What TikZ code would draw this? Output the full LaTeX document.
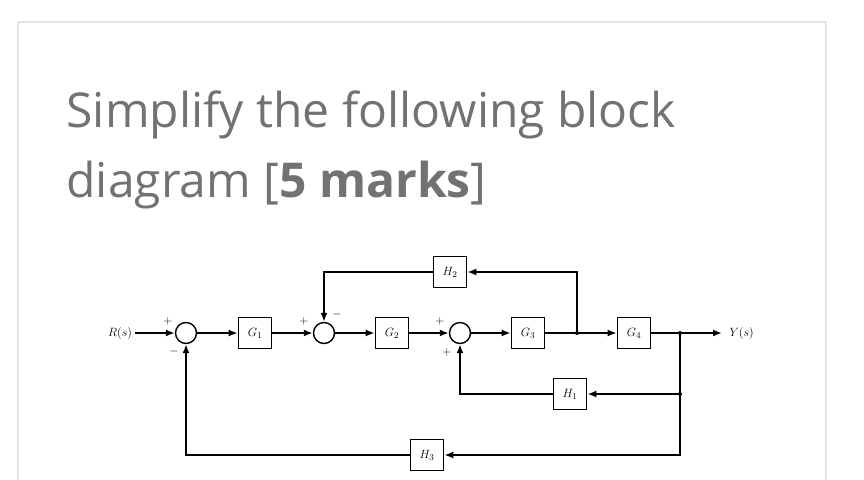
\documentclass[tikz,border=0pt]{standalone}
\usepackage{fontspec}
\setmainfont{Open Sans}
\usetikzlibrary{arrows.meta}
\definecolor{tgray}{HTML}{727272}
\begin{document}
\begin{tikzpicture}[x=1pt,y=-1pt,
  blk/.style={draw,line width=1.6pt,minimum width=33pt,minimum height=31pt,inner sep=0pt,font=\fontsize{13}{13}\selectfont},
  sm/.style={draw,circle,line width=1.4pt,minimum size=21pt,inner sep=0pt},
  sig/.style={-{Latex[length=9pt,width=7pt]},line width=1.8pt},
  lab/.style={font=\fontsize{12}{12}\selectfont}]
\useasboundingbox (0,0) rectangle (864,479);
\draw[gray!20,line width=1.5pt] (18,22) -- (18,490) (18,22) -- (826,22) -- (826,490);
\node[anchor=base west,text=tgray,font=\fontsize{48}{48}\selectfont] (t1) at (63,127) {Simplify the following block};
\node[anchor=base west,text=tgray,font=\fontsize{48}{48}\selectfont] (t2) at (63,197) {diagram [\textbf{5 marks}]};
\node[lab] (R) at (120,333) {$R(s)$};
\node[sm] (s1) at (186,333) {};
\node[blk] (G1) at (255,333) {$G_1$};
\node[sm] (s2) at (324,333) {};
\node[blk] (G2) at (392,333) {$G_2$};
\node[sm] (s3) at (460,333) {};
\node[blk] (G3) at (528,333) {$G_3$};
\coordinate (b1) at (577,333);
\node[blk] (G4) at (634,333) {$G_4$};
\coordinate (b2) at (680,333);
\coordinate (yend) at (722,333);
\node[lab,anchor=west] (Y) at (726,333) {$Y(s)$};
\node[blk] (H2) at (450,272) {$H_2$};
\node[blk] (H1) at (570,394) {$H_1$};
\node[blk] (H3) at (427,455) {$H_3$};
\coordinate (b3) at (680,394);
\draw[sig] (R) -- (s1);
\draw[sig] (s1) -- (G1);
\draw[sig] (G1) -- (s2);
\draw[sig] (s2) -- (G2);
\draw[sig] (G2) -- (s3);
\draw[sig] (s3) -- (G3);
\draw[sig] (G3) -- (G4);
\draw[sig] (G4) -- (yend);
\draw[sig] (b1) |- (H2);
\draw[sig] (H2) -| (s2);
\draw[sig] (b2) |- (H1);
\draw[sig] (H1) -| (s3);
\draw[sig] (b3) |- (H3);
\draw[sig] (H3) -| (s1);
\fill (b1) circle (2pt) (b2) circle (2pt) (b3) circle (2pt);
\begin{scope}[font=\fontsize{12}{12}\selectfont]
\node (p1) at (168,321) {$+$};
\node (m1) at (174,351) {$-$};
\node (p2) at (304,321) {$+$};
\node (m2) at (337,314) {$-$};
\node (p3) at (440,321) {$+$};
\node (p4) at (447,352) {$+$};
\end{scope}
\end{tikzpicture}
\end{document}
